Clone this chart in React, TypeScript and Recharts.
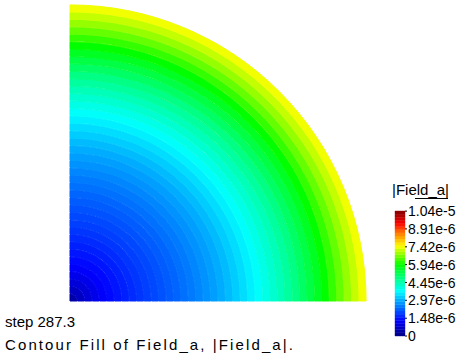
import React from 'react';
import {
  RadialBarChart,
  RadialBar,
  PolarAngleAxis,
  PolarRadiusAxis,
  Cell,
  BarChart,
  Bar,
  XAxis,
  YAxis,
} from 'recharts';

// |Field_a| per contour band, from centre (band 0) to rim (band 39), in units of 1e-6
const bandValues = [
  0.4, 0.68, 0.9, 1.1, 1.26, 1.38, 1.49, 1.6, 1.7, 1.8,
  1.9, 1.99, 2.08, 2.18, 2.27, 2.37, 2.47, 2.58, 2.7, 2.82,
  2.95, 3.1, 3.26, 3.42, 3.6, 3.78, 3.96, 4.15, 4.35, 4.57,
  4.8, 5.06, 5.34, 5.64, 5.94, 6.24, 6.54, 6.84, 7.12, 7.4,
];
// legend scale (units of 1e-6)
const legendMin = 0;
const legendMax = 10.4;
const legendTicks = [0, 1.48, 2.97, 4.45, 5.94, 7.42, 8.91, 10.39];
const legendTickLabels = ['0', '1.48e-6', '2.97e-6', '4.45e-6', '5.94e-6', '7.42e-6', '8.91e-6', '1.04e-5'];
const legendSteps = 40;

const stepLabel = 'step 287.3';
const captionLabel = 'Contour Fill of Field_a, |Field_a|.';
const legendTitle = '|Field_a|';

// colour map (fraction of legend range -> rgb)
const cmap: [number, number, number, number][] = [
  [0, 0, 0, 128],
  [0.125, 0, 0, 255],
  [0.36, 0, 255, 255],
  [0.57, 0, 255, 0],
  [0.72, 255, 255, 0],
  [0.82, 255, 128, 0],
  [0.9, 255, 0, 0],
  [1, 128, 0, 0],
];
function colorOf(v: number): string {
  const t = Math.max(0, Math.min(1, (v - legendMin) / (legendMax - legendMin)));
  for (let i = 1; i < cmap.length; i++) {
    if (t <= cmap[i][0]) {
      const a = cmap[i - 1];
      const b = cmap[i];
      const f = (t - a[0]) / (b[0] - a[0]);
      const r = Math.round(a[1] + (b[1] - a[1]) * f);
      const g = Math.round(a[2] + (b[2] - a[2]) * f);
      const bl = Math.round(a[3] + (b[3] - a[3]) * f);
      return `rgb(${r},${g},${bl})`;
    }
  }
  return 'rgb(128,0,0)';
}

const discData = bandValues.map((v, i) => ({ band: i, span: 1, value: v }));

const stepSize = (legendMax - legendMin) / legendSteps;
const legendRow: Record<string, number | string> = { name: 'bar' };
const legendKeys: { key: string; color: string }[] = [];
for (let i = 0; i < legendSteps; i++) {
  const k = 's' + i;
  legendRow[k] = stepSize;
  legendKeys.push({ key: k, color: colorOf(legendMin + stepSize * (i + 0.5)) });
}
const legendData = [legendRow];

const FONT = '"Liberation Sans", Arial, sans-serif';

const LegendTick = (props: any) => {
  const { x, y, payload } = props;
  const idx = legendTicks.indexOf(payload.value);
  const label = idx >= 0 ? legendTickLabels[idx] : String(payload.value);
  return (
    <text x={x} y={y} dy={5} textAnchor="start" fontSize={14} fontFamily={FONT} fill="#000">
      {label}
    </text>
  );
};

export default function App() {
  return (
    <div style={{ position: 'absolute', left: 0, top: 0, width: 469, height: 361, background: '#fff', overflow: 'hidden' }}>
      <div style={{ position: 'absolute', left: 0, top: 0 }}>
        <RadialBarChart
          width={469}
          height={361}
          data={discData}
          cx={70}
          cy={301}
          innerRadius={0}
          outerRadius={296.5}
          startAngle={0}
          endAngle={90}
          barCategoryGap={0}
          barGap={0}
          margin={{ top: 0, right: 0, bottom: 0, left: 0 }}
        >
          <PolarAngleAxis type="number" domain={[0, 1]} tick={false} axisLine={false} tickLine={false} />
          <PolarRadiusAxis type="category" dataKey="band" tick={false} axisLine={false} tickLine={false} />
          <RadialBar dataKey="span" isAnimationActive={false}>
            {discData.map((d) => (
              <Cell key={d.band} fill={colorOf(d.value)} stroke={colorOf(d.value)} strokeWidth={1} />
            ))}
          </RadialBar>
        </RadialBarChart>
      </div>
      <div style={{ position: 'absolute', left: 390, top: 200 }}>
        <BarChart
          width={79}
          height={150}
          data={legendData}
          barCategoryGap={0}
          margin={{ top: 11, right: 0, bottom: 14, left: 5 }}
        >
          <XAxis dataKey="name" hide />
          <YAxis
            orientation="right"
            type="number"
            domain={[legendMin, legendMax]}
            ticks={legendTicks}
            interval={0}
            width={64}
            axisLine={false}
            tickSize={2}
            tickMargin={1}
            tickLine={{ stroke: '#000' }}
            tick={<LegendTick />}
          />
          {legendKeys.map((k) => (
            <Bar key={k.key} dataKey={k.key} stackId="c" fill={k.color} stroke={k.color} strokeWidth={0.4} isAnimationActive={false} />
          ))}
        </BarChart>
      </div>
      <svg style={{ position: 'absolute', left: 0, top: 0 }} width={469} height={361}>
        <text x={392} y={195} fontSize={15} fontFamily={FONT} fill="#000">{legendTitle}</text>
        <line x1={415} x2={448} y1={198.5} y2={198.5} stroke="#000" strokeWidth={1} />
        <text x={5} y={327} fontSize={15} fontFamily={FONT} fill="#000">{stepLabel}</text>
        <text x={5} y={350} fontSize={15} fontFamily={FONT} fill="#000" textLength={288} lengthAdjust="spacing">{captionLabel}</text>
      </svg>
    </div>
  );
}
